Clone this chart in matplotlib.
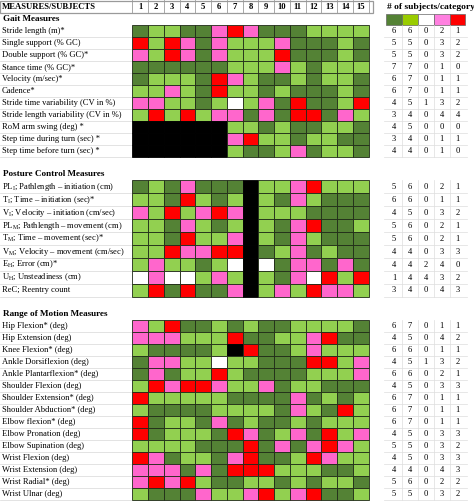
import numpy as np
import matplotlib.pyplot as plt
from matplotlib.patches import Rectangle

plt.rcParams['font.family'] = ['Liberation Serif', 'DejaVu Serif']
plt.rcParams['mathtext.fontset'] = 'custom'
plt.rcParams['mathtext.rm'] = 'Liberation Serif'

# D dark green, L light green, W white, P pink, R red, K black (not measured)
gait_labels = ["Stride length (m)*", "Single support (% GC)", "Double support (% GC)*",
               "Stance time (% GC)*", "Velocity (m/sec)*", "Cadence*",
               "Stride time variability (CV in %)", "Stride length variability (CV in %)",
               "RoM arm swing (deg) *", "Step time during turn (sec) *",
               "Step time before turn (sec) *"]
gait_cells = ["DLLDDPRPDDDLLLL", "RLRPDPLLLPDDDLD", "PLRPDPLLLRDDDLD",
              "DDDDDDLLLPLDLLL", "DLLLDRPLDDLDLLD", "LLPLDRLLDLDDDLD",
              "PPLLDLWLPDRDDLR", "LRLRLPPDPDRRDPL", "KKKKKKLLDLDDLLD",
              "KKKKKKPRLLDLLDD", "KKKKKKLDDLPDLLD"]
gait_counts = [[6, 6, 0, 2, 1], [5, 5, 0, 3, 2], [5, 5, 0, 3, 2], [7, 7, 0, 1, 0],
               [6, 7, 0, 1, 1], [6, 7, 0, 1, 1], [4, 5, 1, 3, 2], [3, 4, 0, 4, 4],
               [4, 5, 0, 0, 0], [3, 4, 0, 1, 1], [4, 4, 0, 1, 0]]

post_labels = [r"PL$_\mathregular{I}$; Pathlength – initiation (cm)",
               r"T$_\mathregular{I}$; Time – initiation (sec)*",
               r"V$_\mathregular{I}$; Velocity – initiation (cm/sec)",
               r"PL$_\mathregular{M}$; Pathlength – movement (cm)",
               r"T$_\mathregular{M}$; Time – movement (sec)*",
               r"V$_\mathregular{M}$; Velocity – movement (cm/sec)",
               r"E$_\mathregular{H}$; Error (cm)*",
               r"U$_\mathregular{H}$; Unsteadiness (cm)",
               "ReC; Reentry count"]
post_cells = ["DLDPDDDKLLPRLLL", "LLDRLDLKLDPLDDD", "PLRLPRPKLLLDDDD",
              "LLDPLDLKLDPRDDL", "LLDRLLPKLDPLDDD", "LLRPPRRKDLPDLDD",
              "LPLLDLWKWDPPDPD", "WPWWLPLKLDPWRLR", "LRDRDDPKLPLRPPL"]
post_counts = [[5, 6, 0, 2, 1], [6, 6, 0, 1, 1], [4, 5, 0, 3, 2], [5, 6, 0, 2, 1],
               [5, 6, 0, 2, 1], [4, 4, 0, 3, 3], [4, 4, 2, 4, 0], [1, 4, 4, 3, 2],
               [3, 4, 0, 4, 3]]

rom_labels = ["Hip Flexion* (deg)", "Hip Extension (deg)", "Knee Flexion* (deg)",
              "Ankle Dorsiflexion (deg)", "Ankle Plantarflexion* (deg)",
              "Shoulder Flexion (deg)", "Shoulder Extension* (deg)",
              "Shoulder Abduction* (deg)", "Elbow flexion* (deg)",
              "Elbow Pronation (deg)", "Elbow Supination (deg)", "Wrist Flexion (deg)",
              "Wrist Extension (deg)", "Wrist Radial* (deg)", "Wrist Ulnar (deg)"]
rom_cells = ["PLRDDLDLDDLLLLD", "PPPLLLRDDLLPRDD", "LDDDDLKRDDLPLLL",
             "DPPLLWLLDDDRRLP", "DPDLLRLDDDDLLLP", "LRPRRPLLPDLLDDD",
             "RLLLLLDDDDPDLDL", "LDDDDLLLLDPLDRL", "RDLLDPDLDDLDLLL",
             "RDLLLDRPDLPDRLP", "LLLLDDDRDPDPRPL", "RPDLLDPRDDLRPLL",
             "PPPDPDRRRLLLDDL", "PRPRLDDLLDLDLLD", "LDDDPLLPRLPRDDL"]
rom_counts = [[6, 7, 0, 1, 1], [4, 5, 0, 4, 2], [6, 6, 0, 1, 1], [4, 5, 1, 3, 2],
              [6, 6, 0, 2, 1], [4, 5, 0, 3, 3], [6, 7, 0, 1, 1], [6, 7, 0, 1, 1],
              [6, 7, 0, 1, 1], [4, 5, 0, 3, 3], [5, 5, 0, 3, 2], [4, 5, 0, 3, 3],
              [4, 4, 0, 4, 3], [5, 6, 0, 2, 2], [5, 5, 0, 3, 2]]

section_titles = ["Gait Measures", "Posture Control Measures", "Range of Motion Measures"]
subjects = [str(i) for i in range(1, 16)]

colors = {'D': '#548235', 'L': '#92D050', 'W': '#FFFFFF', 'P': '#FF66CC',
          'R': '#FF0000', 'K': '#000000'}
legend_colors = ['#548235', '#99CC00', '#FFFFFF', '#FF80E0', '#FF0000']

# layout (pixels)
W, H = 474, 501
gx0, cw = 132.2, 15.77
sx0, sw = 386, 15.9
sections = [(gait_labels, gait_cells, gait_counts, 25.3, 11.96),
            (post_labels, post_cells, post_counts, 180.3, 12.96),
            (rom_labels, rom_cells, rom_counts, 320.3, 12.0)]

fig = plt.figure(figsize=(W / 100, H / 100), dpi=100)
ax = fig.add_axes([0, 0, 1, 1])
ax.set_xlim(0, W)
ax.set_ylim(H, 0)
ax.axis('off')

fs = 6.1
# header row
ax.add_patch(Rectangle((0, 0.5), gx0 + 15 * cw + 4, 12.5, facecolor='white',
                       edgecolor='#9a9a9a', lw=0.9))
ax.text(2, 7, "MEASURES/SUBJECTS", fontsize=6.2, fontweight='bold',
        va='center', ha='left')
for j, s in enumerate(subjects):
    ax.plot([gx0 + j * cw, gx0 + j * cw], [0, 13], color='#9a9a9a', lw=0.6)
    ax.text(gx0 + (j + 0.5) * cw, 7, s, fontsize=6.2, fontweight='bold',
            ha='center', va='center')
ax.plot([gx0 + 15 * cw] * 2, [0, 13], color='#9a9a9a', lw=0.6)
ax.text(sx0 + 1, 7, "# of subjects/category", fontsize=6.8, fontweight='bold',
        ha='left', va='center')
for k, c in enumerate(legend_colors):
    ax.add_patch(Rectangle((sx0 + k * sw, 13.5), sw, 11.5, facecolor=c,
                           edgecolor='#666666', lw=0.5))

for t, (labels, cells, counts, y0, rh) in enumerate(sections):
    ax.text(3, y0 - 6.5, section_titles[t], fontsize=6.6, fontweight='bold',
            ha='left', va='center')
    for i, lab in enumerate(labels):
        yc = y0 + (i + 0.5) * rh
        ax.text(2, yc, lab, fontsize=fs, ha='left', va='center')
        ax.plot([0, gx0 - 1], [y0 + (i + 1) * rh] * 2, color='#d8d8d8', lw=0.5)
        for j, code in enumerate(cells[i]):
            ec = 'black' if code == 'K' else '#1f2a17'
            ax.add_patch(Rectangle((gx0 + j * cw, y0 + i * rh), cw, rh,
                                   facecolor=colors[code], edgecolor=ec, lw=0.6))
        for k, v in enumerate(counts[i]):
            ax.text(sx0 + (k + 0.5) * sw, yc, str(v), fontsize=fs, ha='center',
                    va='center')
        ax.plot([sx0 - 2, sx0 + 5 * sw + 2], [y0 + (i + 1) * rh] * 2,
                color='#dddddd', lw=0.5)
    for k in range(1, 5):
        ax.plot([sx0 + k * sw] * 2, [y0, y0 + len(labels) * rh],
                color='#dddddd', lw=0.5)

fig.savefig('out.png', dpi=100)
